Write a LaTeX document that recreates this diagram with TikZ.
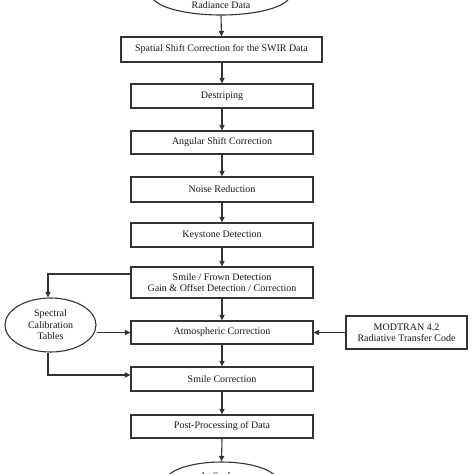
\documentclass[tikz,border=0pt]{standalone}
\usepackage{fontspec}
\setmainfont{Liberation Serif}
\usetikzlibrary{arrows.meta,shapes.geometric}
\definecolor{ln}{HTML}{333333}
\begin{document}
\begin{tikzpicture}[x=1pt,y=-1pt,
  every node/.style={font=\fontsize{10}{11.5}\selectfont, text=black!90},
  procbox/.style={draw=ln, line width=1.1pt, minimum width=182pt, minimum height=24pt, inner sep=0pt, align=center},
  ovalbox/.style={draw=ln, line width=1.1pt, ellipse, inner sep=0pt, align=center},
  flow/.style={draw=ln, line width=1.1pt, -{Triangle[length=5.5pt,width=5pt]}}]
\useasboundingbox (0,0) rectangle (474,474);
\begin{scope}
\clip (0,0) rectangle (474,474);
\fill[white] (0,0) rectangle (474,474);
\node[ovalbox, minimum width=138pt, minimum height=40pt] (top) at (221,-5) {};
\node (toptext) at (221,5) {Radiance Data};
\node[procbox, minimum width=201pt, minimum height=25pt] (b1) at (221.5,49.5) {Spatial Shift Correction for the SWIR Data};
\node[procbox] (b2) at (222,96) {Destriping};
\node[procbox, minimum height=23pt] (b3) at (222,142.5) {Angular Shift Correction};
\node[procbox, minimum height=25pt] (b4) at (222,189.5) {Noise Reduction};
\node[procbox] (b5) at (222,235) {Keystone Detection};
\node[procbox, minimum height=31pt] (b6) at (222,282.5) {Smile / Frown Detection\\Gain \& Offset Detection / Correction};
\node[procbox, minimum height=23pt] (b7) at (222,332.5) {Atmospheric Correction};
\node[procbox, minimum width=121pt, minimum height=33pt] (mod) at (406.5,332.5) {MODTRAN 4.2\\Radiative Transfer Code};
\node[ovalbox, minimum width=91pt, minimum height=54pt] (spec) at (50.5,325) {Spectral\\Calibration\\Tables};
\node[procbox] (b8) at (222,379) {Smile Correction};
\node[procbox, minimum height=23pt] (b9) at (222,426.5) {Post-Processing of Data};
\node[ovalbox, minimum width=113pt, minimum height=40pt] (bot) at (221.5,482) {};
\node (bottext) at (221.5,476) {At-Surface};
\draw[flow] (top.south) -- (b1.north);
\draw[flow] (b1.south -| b2.north) -- (b2.north);
\draw[flow] (b2) -- (b3);
\draw[flow] (b3) -- (b4);
\draw[flow] (b4) -- (b5);
\draw[flow] (b5) -- (b6);
\draw[flow] (b6) -- (b7);
\draw[flow] (b7) -- (b8);
\draw[flow] (b8) -- (b9);
\draw[flow] (b9.south) -- (bot.north);
\draw[flow] (mod.west) -- (b7.east);
\draw[flow] (spec.east |- b7.west) -- (b7.west);
\coordinate (c1) at (48,274);
\draw[flow] (b6.west |- c1) -- (c1) -- (spec.north -| c1);
\coordinate (c2) at (48,375);
\draw[flow] (spec.south -| c2) -- (c2) -- (b8.west |- c2);
\end{scope}
\end{tikzpicture}
\end{document}
